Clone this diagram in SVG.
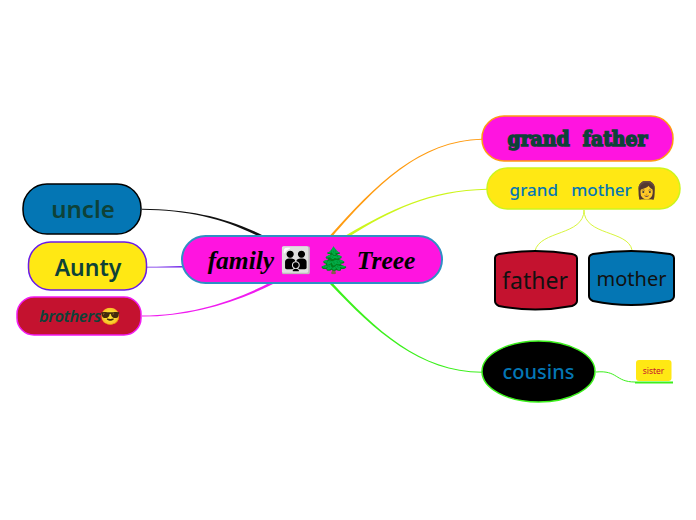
<svg xmlns="http://www.w3.org/2000/svg" width="696" height="520" viewBox="0 0 696 520">
<style>
text{text-anchor:middle;font-family:"Noto Sans","Open Sans",sans-serif}
.e{font-family:"Noto Color Emoji",emoji;font-style:normal;font-weight:400;stroke:none}
.c{fill:none}
</style>
<rect width="696" height="520" fill="#fff"/>
<g id="connectors" class="c">
<path d="M142 208.700C190 209.700 225 216.500 263 235.500L261 237.500C225 219 190 210.200 142 209.700Z" fill="#111"/>
<path d="M147 266.700C160 266.700 172 266.500 184 266L184 267.500C172 267.500 160 267.500 147 267.500Z" fill="#6a1be8"/>
<path d="M142 315.500C190 315.500 235 301 271 282L273 284C235 303 190 316.500 142 316.500Z" fill="#f01bf0"/>
<path d="M482 138.700C420 139.700 375 185 330 235.500L332 237C375 187 420 140.700 482 139.700Z" fill="#ff9c12"/>
<path d="M487 188.700C430 189.700 390 209.500 346.500 235L348.500 237C390 211 430 190.700 487 189.700Z" fill="#cdf51c"/>
<path d="M482 371.700C420 371.700 375 329 332 282.500L330 284C375 331 420 372.700 482 372.700Z" fill="#3cf01c"/>
<path d="M584 210C584 236 540 230 535 251" stroke="#d8f53c" stroke-width="1"/>
<path d="M584 210C584 236 628 230 632 250" stroke="#d8f53c" stroke-width="1"/>
<path d="M596 372C618 370 615 382 635 382" stroke="#3cf01c" stroke-width="1"/>
<path d="M635 382.500L673 382.500" stroke="#3cf01c" stroke-width="2"/>
</g>
<g id="node-root">
<rect x="182" y="236" width="260" height="47" rx="23.500" fill="#ff14e0" stroke="#2f8fc4" stroke-width="2"/>
<text x="311.500" y="269" font-size="25.500" font-weight="700" font-style="italic" style="font-family:'Liberation Serif',serif" xml:space="preserve">family <tspan class="e">👪</tspan> <tspan class="e">🌲</tspan> Treee</text>
</g>
<g id="node-grandfather">
<rect x="482" y="116" width="191" height="45" rx="22" fill="#ff14e0" stroke="#ff9c12" stroke-width="1.500"/>
<text x="577.500" y="146" font-size="21" font-weight="700" fill="#0e4238" stroke="#0e4238" stroke-width="1.600" style="font-family:'DejaVu Serif',serif" xml:space="preserve" textLength="140" lengthAdjust="spacingAndGlyphs">grand  father</text>
</g>
<g id="node-grandmother">
<rect x="487" y="168" width="193" height="41" rx="20.500" fill="#ffe814" stroke="#cdf51c" stroke-width="1.500"/>
<text x="583.500" y="196" font-size="17" font-weight="500" fill="#0476b4" xml:space="preserve">grand   mother <tspan class="e">👩</tspan></text>
</g>
<g id="node-father">
<path d="M495 258Q495 255 499 254Q535 248 572 254Q577 255 577 258V301Q577 304 572 306Q535 313 499 306Q495 304 495 301Z" fill="#c4122f" stroke="#000" stroke-width="2"/>
<text x="535" y="289" font-size="23" fill="#111">father</text>
</g>
<g id="node-mother">
<path d="M589 258Q589 255 593 254Q631 248 670 254Q674 255 674 258V296Q674 299 670 301Q631 309 593 301Q589 299 589 296Z" fill="#0476b4" stroke="#000" stroke-width="2"/>
<text x="631.500" y="286" font-size="20" fill="#111">mother</text>
</g>
<g id="node-cousins">
<ellipse cx="538.500" cy="371.500" rx="56.500" ry="30.500" fill="#000" stroke="#3cf01c" stroke-width="1.500"/>
<text x="538.500" y="379" font-size="20" font-weight="500" fill="#0476b4">cousins</text>
</g>
<g id="node-sister">
<rect x="636" y="360" width="35.500" height="21" rx="3" fill="#ffe814"/>
<text x="653.500" y="374" font-size="8.500" fill="#c4122f">sister</text>
</g>
<g id="node-uncle">
<rect x="23" y="184" width="118" height="50" rx="24" fill="#0476b4" stroke="#000" stroke-width="1.500"/>
<text x="83" y="218" font-size="24" fill="#0e4238" font-weight="600">uncle</text>
</g>
<g id="node-aunty">
<rect x="28.500" y="242" width="118" height="48" rx="22" fill="#ffe814" stroke="#6a1be8" stroke-width="1.500"/>
<text x="88" y="276" font-size="23" font-weight="600" fill="#0e4238">Aunty</text>
</g>
<g id="node-brothers">
<rect x="17" y="297" width="124" height="38" rx="17" fill="#c4122f" stroke="#f01bf0" stroke-width="1.500"/>
<text x="80" y="322" font-size="16.500" font-style="italic" font-weight="600" fill="#0e4238" letter-spacing="-.4">brothers<tspan class="e">😎</tspan></text>
</g>
</svg>
